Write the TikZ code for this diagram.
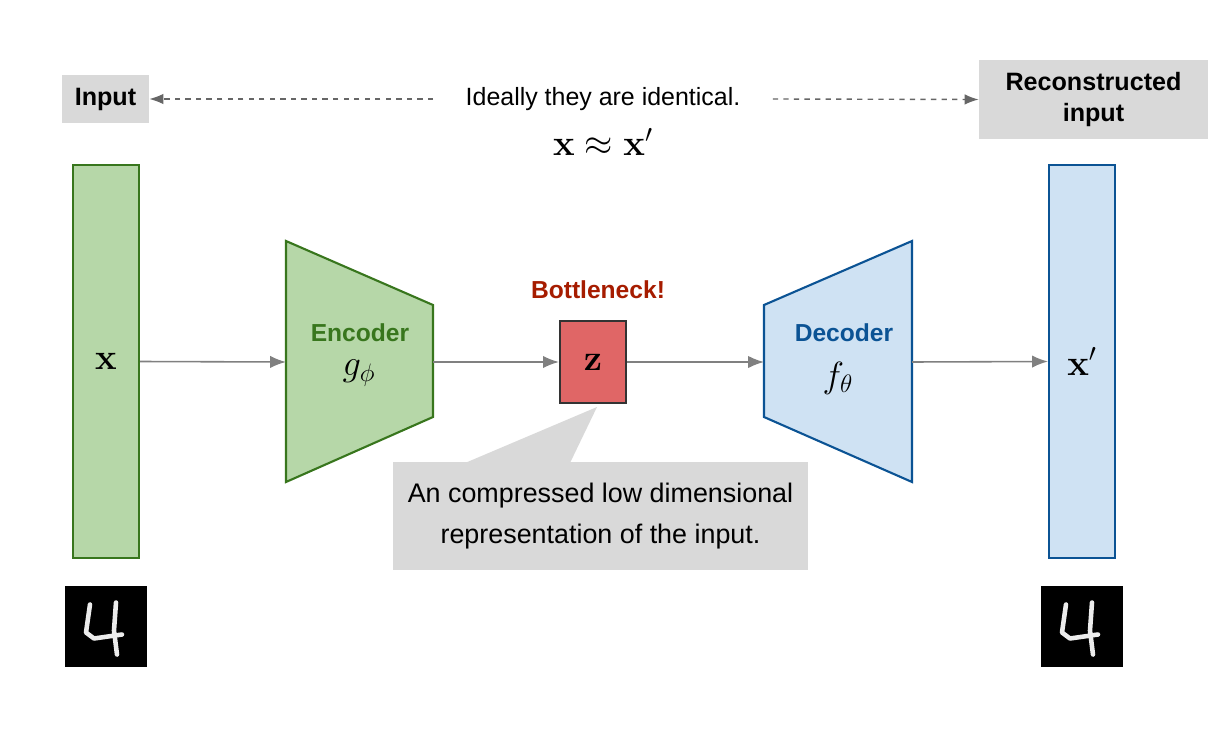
\documentclass[tikz,border=0pt]{standalone}
\usepackage{amsmath}
\usepackage[no-math]{fontspec}
\setmainfont{Liberation Sans}
\usetikzlibrary{arrows.meta}
\definecolor{lgray}{HTML}{D9D9D9}
\definecolor{egreen}{HTML}{B6D7A8}
\definecolor{dgreen}{HTML}{38761D}
\definecolor{eblue}{HTML}{CFE2F3}
\definecolor{dblue}{HTML}{0B5394}
\definecolor{zred}{HTML}{E06666}
\definecolor{bred}{HTML}{A61C00}
\begin{document}
\begin{tikzpicture}[x=0.02cm,y=-0.02cm,
  lab/.style={fill=lgray,inner sep=0pt,font=\bfseries\fontsize{14.3}{18}\selectfont,align=center},
  conn/.style={draw=gray,line width=0.9pt,-{Latex[length=9pt,width=7pt]}},
  dconn/.style={draw=gray!80!black,dashed,line width=0.8pt,-{Latex[length=8pt,width=6pt]}}]
\useasboundingbox (0,0) rectangle (1232,730);
% labels
\node[lab,minimum width=87*0.02cm,minimum height=48*0.02cm] (in) at (105.5,99) {Input};
\node[lab,minimum width=229*0.02cm,minimum height=79*0.02cm] (rec) at (1093.5,99.5) {Reconstructed\\input};
\node[font=\fontsize{14.2}{17}\selectfont] (ideal) at (603,99) {Ideally they are identical.};
\node[font=\fontsize{20}{24}\selectfont] (approx) at (603,142) {$\mathbf{x}\approx\mathbf{x}'$};
\draw[dconn] ([xshift=-15]ideal.west) -- (in.east);
\draw[dconn] ([xshift=15]ideal.east) -- (rec.west);
% bars
\node[draw=dgreen,fill=egreen,line width=1.2pt,minimum width=66*0.02cm,minimum height=393*0.02cm,inner sep=0pt,font=\fontsize{20}{24}\selectfont] (x) at (106,361.5) {$\mathbf{x}$};
\node[draw=dblue,fill=eblue,line width=1.2pt,minimum width=66*0.02cm,minimum height=393*0.02cm,inner sep=0pt,font=\fontsize{20}{24}\selectfont] (xp) at (1082,361.5) {$\mathbf{x}'$};
% encoder
\draw[draw=dgreen,fill=egreen,line width=1.2pt] (286,241) -- (433,305) -- (433,417) -- (286,482) -- cycle;
\node[coordinate] (encL) at (286,362) {};
\node[coordinate] (encR) at (433,362) {};
\node[text=dgreen,font=\bfseries\fontsize{14}{17}\selectfont] (enct) at (360,333) {Encoder};
\node[font=\fontsize{22}{26}\selectfont] (encm) at (359,373) {$g_\phi$};
% decoder
\draw[draw=dblue,fill=eblue,line width=1.2pt] (764,305) -- (912,241) -- (912,482) -- (764,417) -- cycle;
\node[coordinate] (decL) at (764,362) {};
\node[coordinate] (decR) at (912,362) {};
\node[text=dblue,font=\bfseries\fontsize{14}{17}\selectfont] (dect) at (844,333) {Decoder};
\node[font=\fontsize{22}{26}\selectfont] (decm) at (838,378) {$f_\theta$};
% z
\node[draw=black!80,fill=zred,line width=1.2pt,minimum width=66*0.02cm,minimum height=82*0.02cm,inner sep=0pt,font=\fontsize{20}{24}\selectfont] (z) at (593,362) {$\mathbf{z}$};
\node[text=bred,font=\bfseries\fontsize{14}{17}\selectfont] (bn) at (598,290) {Bottleneck!};
% arrows
\draw[conn] (x.east) -- (encL);
\draw[conn] (encR) -- (z.west);
\draw[conn] (z.east) -- (decL);
\draw[conn] (decR) -- (xp.west);
% callout
\fill[lgray] (465,463) -- (597,407) -- (570,463) -- cycle;
\node[fill=lgray,minimum width=415*0.02cm,minimum height=108*0.02cm,inner sep=0pt,align=center,font=\fontsize{15.3}{23}\selectfont] (call) at (600.5,516) {An compressed low dimensional\\representation of the input.};
% digits
\node[fill=black,minimum width=82*0.02cm,minimum height=81*0.02cm,inner sep=0pt] (d1) at (106,626.5) {};
\node[fill=black,minimum width=82*0.02cm,minimum height=81*0.02cm,inner sep=0pt] (d2) at (1082,626.5) {};
\foreach \c in {d1,d2}{
  \draw[white!85!gray,line width=2.6pt,line cap=round,line join=round]
    ([shift={(-16,-22)}]\c.center) -- ([shift={(-20,6)}]\c.center) -- ([shift={(-12,12)}]\c.center) -- ([shift={(16,8)}]\c.center);
  \draw[white!85!gray,line width=2.6pt,line cap=round]
    ([shift={(10,-24)}]\c.center) -- ([shift={(8,4)}]\c.center) -- ([shift={(11,28)}]\c.center);
}
\end{tikzpicture}
\end{document}
